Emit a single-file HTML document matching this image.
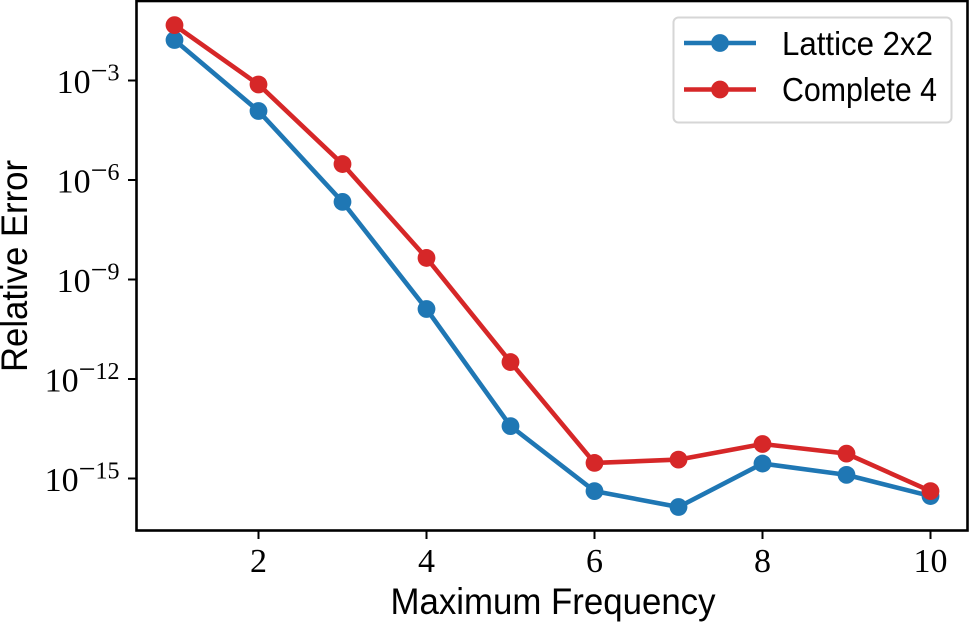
<!DOCTYPE html>
<html>
<head>
<meta charset="utf-8">
<style>
html,body{margin:0;padding:0;background:#fff;}
svg{display:block;}
.tick{font-family:"Liberation Serif",serif;fill:#000;}
.lab{font-family:"Liberation Sans",sans-serif;fill:#000;}
</style>
</head>
<body>
<svg id="chart" width="969" height="622" viewBox="0 0 969 622" xmlns="http://www.w3.org/2000/svg">
  <rect x="136.5" y="1" width="831" height="529.5" fill="#fff"/>
  <g id="series"></g>
  <g id="axes"></g>
  <rect x="136.5" y="1" width="831" height="529.5" fill="none" stroke="#000" stroke-width="2.6"/>
  <text class="lab" x="553" y="614" font-size="37" text-anchor="middle" textLength="325" lengthAdjust="spacingAndGlyphs">Maximum Frequency</text>
  <text class="lab" transform="translate(27,266) rotate(-90)" font-size="37" text-anchor="middle" textLength="212" lengthAdjust="spacingAndGlyphs">Relative Error</text>
  <g>
    <rect x="673.5" y="17.5" width="278" height="105" rx="5" fill="#fff" stroke="#d6d6d6" stroke-width="2"/>
    <line x1="684" x2="756" y1="43" y2="43" stroke="#1f77b4" stroke-width="4.6"/>
    <circle cx="720" cy="43" r="8.9" fill="#1f77b4"/>
    <text class="lab" x="782" y="55" font-size="33" textLength="151" lengthAdjust="spacingAndGlyphs">Lattice 2x2</text>
    <line x1="684" x2="756" y1="89.5" y2="89.5" stroke="#d62728" stroke-width="4.6"/>
    <circle cx="720" cy="89.5" r="8.9" fill="#d62728"/>
    <text class="lab" x="782" y="101" font-size="33" textLength="155" lengthAdjust="spacingAndGlyphs">Complete 4</text>
  </g>
</svg>
<script>
const frequencies = [1, 2, 3, 4, 5, 6, 7, 8, 9, 10];
const latticeLog10Error = [-1.78, -3.92, -6.66, -9.89, -13.42, -15.38, -15.86, -14.55, -14.89, -15.53];
const completeLog10Error = [-1.33, -3.12, -5.52, -8.35, -11.49, -14.53, -14.43, -13.96, -14.25, -15.38];
const xTickValues = [2, 4, 6, 8, 10];
const yTickExponents = [-3, -6, -9, -12, -15];

const NS = 'http://www.w3.org/2000/svg';
function xScale(v) { return 258.5 + (v - 2) * 84; }
function yScale(e) { return 80.5 + (-3 - e) * (398 / 12); }

function make(tag, attrs, parent) {
  const el = document.createElementNS(NS, tag);
  for (const k in attrs) el.setAttribute(k, attrs[k]);
  parent.appendChild(el);
  return el;
}

const axes = document.getElementById('axes');
xTickValues.forEach(function (v) {
  const t = make('line', { x1: xScale(v), x2: xScale(v), y1: 530.5, y2: 539, stroke: '#000', 'stroke-width': 2 }, axes);
  
  
  const l = make('text', { x: xScale(v), y: 572, 'text-anchor': 'middle', 'font-size': 34, class: 'tick' }, axes);
  
  
  l.textContent = String(v);
});
yTickExponents.forEach(function (e) {
  const y = yScale(e);
  const t = make('line', { x1: 128, x2: 136.5, y1: y, y2: y, stroke: '#000', 'stroke-width': 2 }, axes);
  
  
  const l = make('text', { x: 119.5, y: y + 12.5, 'text-anchor': 'end', 'font-size': 34, class: 'tick' }, axes);
  
  
  const base = make('tspan', {}, l);
  base.textContent = '10';
  const minus = make('tspan', { dy: -12.5, 'font-size': 30 }, l);
  minus.textContent = '\u2212';
  const exp = make('tspan', { 'font-size': 24 }, l);
  exp.textContent = String(Math.abs(e));
});

function drawSeries(values, color, name) {
  const layer = document.getElementById('series');
  const pts = values.map(function (e, i) { return xScale(frequencies[i]) + ',' + yScale(e); }).join(' ');
  const line = make('polyline', { points: pts, fill: 'none', stroke: color, 'stroke-width': 4.6, 'stroke-linejoin': 'round' }, layer);
  
  
  values.forEach(function (e, i) {
    const c = make('circle', { cx: xScale(frequencies[i]), cy: yScale(e), r: 8.9, fill: color }, layer);
    
    
  });
}
drawSeries(latticeLog10Error, '#1f77b4', 'lattice-2x2');
drawSeries(completeLog10Error, '#d62728', 'complete-4');
</script>
</body>
</html>
